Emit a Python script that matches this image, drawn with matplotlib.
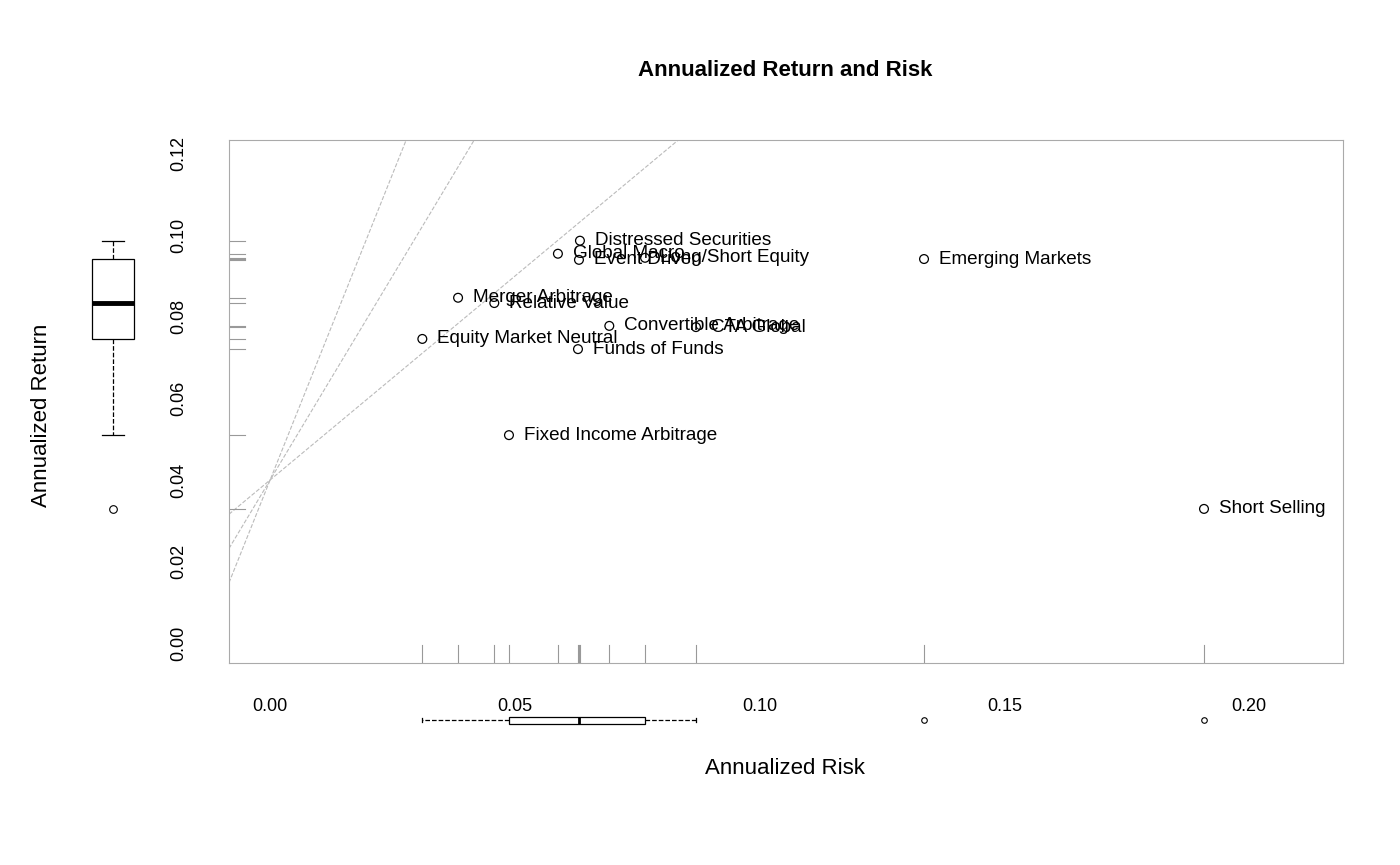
import matplotlib
matplotlib.use("Agg")
import matplotlib.pyplot as plt
import numpy as np

plt.rcParams['font.family'] = ['Liberation Sans', 'DejaVu Sans']

names = ["Convertible Arbitrage", "CTA Global", "Distressed Securities", "Emerging Markets",
         "Equity Market Neutral", "Event Driven", "Fixed Income Arbitrage", "Global Macro",
         "Long/Short Equity", "Merger Arbitrage", "Relative Value", "Short Selling", "Funds of Funds"]
risk = [0.0693, 0.0870, 0.0633, 0.1336, 0.0311, 0.0631, 0.0488, 0.0588, 0.0766, 0.0384, 0.0458, 0.1908, 0.0629]
ret = [0.0778, 0.0775, 0.0987, 0.0942, 0.0746, 0.0940, 0.0510, 0.0955, 0.0945, 0.0847, 0.0834, 0.0329, 0.0721]
rf = 0.04
slopes = [1, 2, 3]

W, H = 1400, 865
fig = plt.figure(figsize=(14, 8.65), dpi=100)
ax = fig.add_axes([229/W, 1-663/H, (1343-229)/W, (663-140)/H])
xlim = (-0.0084, 0.2192); ylim = (-0.0049, 0.1234)
ax.set_xlim(*xlim); ax.set_ylim(*ylim)
for s in ax.spines.values():
    s.set_color('#aaaaaa')

xs = np.array(xlim)
for b in slopes:
    ax.plot(xs, rf + b*xs, ls='--', color='#bbbbbb', lw=0.8)

ax.scatter(risk, ret, s=40, facecolors='none', edgecolors='black', lw=0.9, zorder=3)
for n, x, y in zip(names, risk, ret):
    ax.text(x + 0.003, y, n, va='center', ha='left', fontsize=13.6)

# rugs
for x in risk:
    ax.plot([x, x], [ylim[0], ylim[0] + 0.0045], color='#999999', lw=0.8)
for y in ret:
    ax.plot([xlim[0], xlim[0] + 0.0033], [y, y], color='#999999', lw=0.8)

ax.set_xticks([0, 0.05, 0.10, 0.15, 0.20])
ax.set_xticklabels(["0.00", "0.05", "0.10", "0.15", "0.20"])
ax.set_yticks([0, 0.02, 0.04, 0.06, 0.08, 0.10, 0.12])
ax.set_yticklabels(["0.00", "0.02", "0.04", "0.06", "0.08", "0.10", "0.12"], rotation=90, va='center')
ax.tick_params(axis='x', length=0, pad=25, labelsize=13)
ax.tick_params(axis='y', length=0, pad=30, labelsize=13)

fig.text(785/W, 1-768/H, "Annualized Risk", ha='center', va='center', fontsize=16)
fig.text(42/W, 1-415/H, "Annualized Return", ha='center', va='center', rotation=90, fontsize=16)
fig.text(785/W, 1-71/H, "Annualized Return and Risk", ha='center', va='center', fontsize=16, fontweight='bold')

bp_kw = dict(whis=1.5, patch_artist=True,
             boxprops=dict(facecolor='white', color='black', lw=0.9),
             medianprops=dict(color='black', lw=3.5),
             whiskerprops=dict(color='black', ls='--', lw=0.9),
             capprops=dict(color='black', lw=0.9),
             flierprops=dict(marker='o', mfc='none', mec='black', ms=5.5, mew=0.8))
# left boxplot
axl = fig.add_axes([80/W, 1-663/H, 66/W, (663-140)/H])
axl.boxplot(ret, positions=[0], widths=0.65, **bp_kw)
axl.set_ylim(*ylim); axl.set_xlim(-0.5, 0.5); axl.axis('off')
# bottom boxplot
axb = fig.add_axes([229/W, 1-730/H, (1343-229)/W, 20/H])
bp2 = dict(bp_kw); bp2['medianprops'] = dict(color='black', lw=2)
bp2['flierprops'] = dict(marker='o', mfc='none', mec='black', ms=4, mew=0.8)
axb.boxplot(risk, positions=[0], widths=0.35, vert=False, **bp2)
axb.set_xlim(*xlim); axb.set_ylim(-0.5, 0.5); axb.axis('off')

fig.savefig("out.png", dpi=100)
